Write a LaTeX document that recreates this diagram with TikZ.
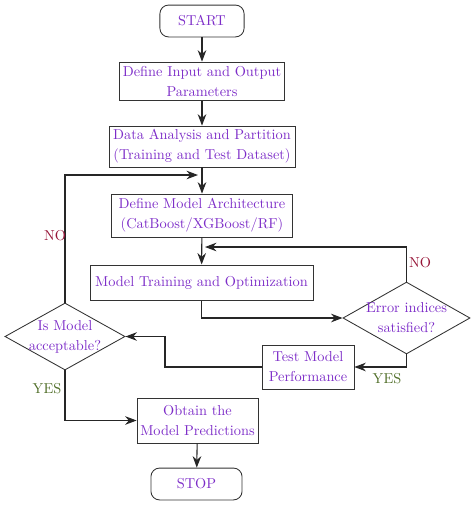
\documentclass[tikz,border=0pt]{standalone}
\usepackage{tikz}
\usetikzlibrary{arrows.meta,shapes.geometric}

\definecolor{txtpurple}{RGB}{125,45,200}
\definecolor{nored}{RGB}{150,20,55}
\definecolor{yesgreen}{RGB}{80,110,40}

\tikzset{
	stepbox/.style={draw=black!80, line width=0.6pt, text=txtpurple, align=center, inner sep=2pt, font=\fontsize{10}{14}\selectfont},
	termbox/.style={stepbox, rounded corners=6pt},
	decbox/.style={draw=black!80, line width=0.6pt, text=txtpurple, align=center, diamond, inner sep=-8pt, font=\fontsize{10}{14}\selectfont},
	flow/.style={draw=black!85, line width=0.75pt, -{Stealth[length=8pt,width=6pt]}},
	nolabel/.style={text=nored},
	yeslabel/.style={text=yesgreen}
}

\begin{document}
\begin{tikzpicture}[x=0.02447cm, y=-0.02447cm]
		%%%%% START %%%%%
		\useasboundingbox (0, 0) rectangle (474, 507);
		
		\node[termbox, minimum width=2.06cm, minimum height=0.78cm] (start) at (202, 21) {START};
		\node[stepbox, minimum width=4.04cm, minimum height=0.95cm] (input) at (202, 81.5) {Define Input and Output\\Parameters};
		\node[stepbox, minimum width=4.55cm, minimum height=1.0cm] (data) at (202, 146.5) {Data Analysis and Partition\\(Training and Test Dataset)};
		\node[stepbox, minimum width=4.45cm, minimum height=1.05cm] (arch) at (202, 215.5) {Define Model Architecture\\(CatBoost/XGBoost/RF)};
		\node[stepbox, minimum width=5.46cm, minimum height=0.86cm] (train) at (201.5, 282.5) {Model Training and Optimization};
		
		\node[decbox, minimum width=3.11cm, minimum height=1.76cm] (err) at (406.5, 318) {Error indices\\satisfied?};
		\node[stepbox, minimum width=2.25cm, minimum height=1.08cm] (test) at (308, 367) {Test Model\\Performance};
		\node[decbox, minimum width=2.94cm, minimum height=1.64cm] (acc) at (65, 336.5) {Is Model\\acceptable?};
		
		\node[stepbox, minimum width=2.96cm, minimum height=1.1cm] (pred) at (197.5, 420.5) {Obtain the\\Model Predictions};
		\node[termbox, minimum width=2.23cm, minimum height=0.78cm] (stop) at (196.5, 484) {STOP};
		
		\coordinate (nojoin) at (205, 247);
		\coordinate (accjoin) at (198, 175);
		\coordinate (bendx) at (165, 0);
		
		\draw[flow] (start) -- (input);
		\draw[flow] (input) -- (data);
		\draw[flow] (data) -- (arch);
		\draw[flow] (arch) -- (train);
		\draw[flow] (train.south) |- (err.west);
		\draw[flow] (err.north) |- (nojoin);
		\draw[flow] (err.south) |- (test.east);
		\draw[flow] (test.west) -- (test.west -| bendx) |- (acc.east);
		\draw[flow] (acc.north) |- (accjoin);
		\draw[flow] (acc.south) |- (pred.west);
		\draw[flow] (pred) -- (stop);
		
		\node[nolabel] (noleft) at (55, 236) {NO};
		\node[nolabel] (noright) at (420, 263) {NO};
		\node[yeslabel] (yesleft) at (47, 389) {YES};
		\node[yeslabel] (yesright) at (387, 379) {YES};
		
		%%%%% END %%%%%
	\end{tikzpicture}
\end{document}
